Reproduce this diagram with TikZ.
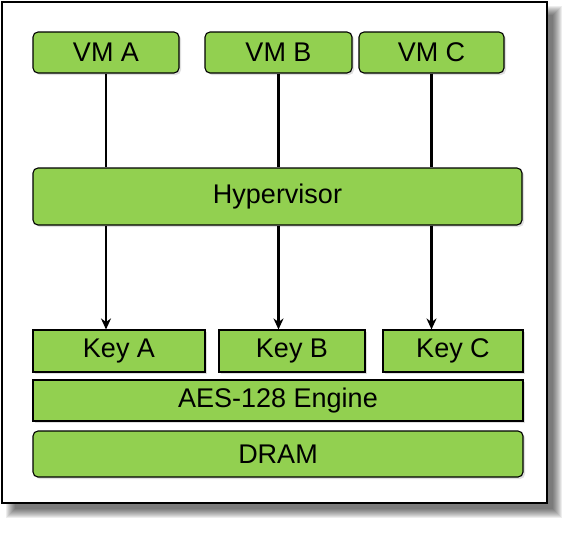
\documentclass[tikz,border=0pt]{standalone}
\usepackage{fontspec}
\setmainfont{Liberation Sans}
\usetikzlibrary{shadows,arrows.meta}
\definecolor{boxgreen}{HTML}{92D050}
\begin{document}
\begin{tikzpicture}[x=1pt,y=-1pt,
  box/.style={draw=black, fill=boxgreen, line width=1.1pt, inner sep=0pt,
    font=\fontsize{27}{32}\selectfont,
    drop shadow={shadow xshift=2pt, shadow yshift=-2pt, opacity=0.25}},
  rbox/.style={box, rounded corners=5pt},
  link/.style={line width=2.2pt},
  arr/.style={link, -{Stealth[length=11pt,width=10pt]}}]
\useasboundingbox (0,0) rectangle (578,536);
% frame shadow
\foreach \i in {1,...,10}
  \fill[black, opacity=0.07] ({5+\i},{5+\i}) rectangle ({563-\i},{519-\i});
% frame
\draw[line width=1.8pt, fill=white] (2,2) rectangle (547,503);
% nodes
\node[rbox, minimum width=146pt, minimum height=41pt] (vma) at (106,52.5) {VM A};
\node[rbox, minimum width=147pt, minimum height=41pt] (vmb) at (278.5,52.5) {VM B};
\node[rbox, minimum width=145pt, minimum height=41pt] (vmc) at (431.5,52.5) {VM C};
\node[rbox, minimum width=489pt, minimum height=57pt] (hyp) at (277.5,196.5) {Hypervisor};
\node[box, minimum width=172pt, minimum height=42pt] (keya) at (119,351) {Key A};
\node[box, minimum width=146pt, minimum height=42pt] (keyb) at (292,351) {Key B};
\node[box, minimum width=140pt, minimum height=42pt] (keyc) at (453,351) {Key C};
\node[box, minimum width=490pt, minimum height=41pt] (aes) at (278,400.5) {AES-128 Engine};
\node[rbox, minimum width=490pt, minimum height=46pt] (dram) at (278,454) {DRAM};
% connectors
\draw[link] (vma.south) -- (vma.south |- hyp.north);
\draw[link] (vmb.south) -- (vmb.south |- hyp.north);
\draw[link] (vmc.south) -- (vmc.south |- hyp.north);
\draw[arr] (vma.south |- hyp.south) -- (vma.south |- keya.north);
\draw[arr] (vmb.south |- hyp.south) -- (vmb.south |- keyb.north);
\draw[arr] (vmc.south |- hyp.south) -- (vmc.south |- keyc.north);
\end{tikzpicture}
\end{document}
